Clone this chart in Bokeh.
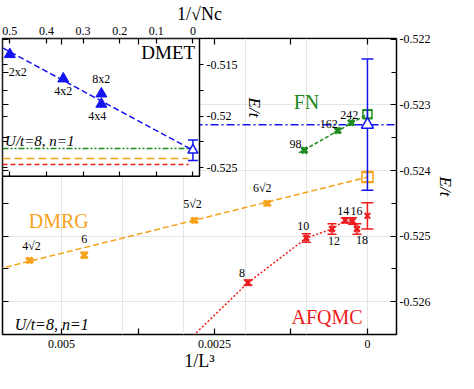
from bokeh.plotting import figure
from bokeh.models import Range1d, LinearAxis, FixedTicker, Span, Label
from bokeh.core.properties import value
from bokeh.embed import file_html
from bokeh.resources import INLINE

FONT = "Liberation Serif"
BLUE = "#1414f0"
GREEN = "#1e8a1e"
ORANGE = "#f7a21b"
RED = "#ee1c1c"

# ---------------- data ----------------
# inset: DMET cluster energies vs 1/sqrt(Nc)
dmet_labels = ["2x2", "4x2", "8x2", "4x4"]
dmet_x = [0.5, 0.354, 0.25, 0.25]
dmet_e = [-0.51400, -0.51636, -0.51782, -0.51882]
dmet_extrap_e = -0.52330
dmet_extrap_err = 0.0010
dmet_fit_x = [0.52, 0.0]
dmet_fit_e = [-0.51336, -0.52330]

# FN (labels: number of sites)
fn_labels = ["98", "162", "242"]
fn_x = [0.00103, 0.000485, 0.000266]
fn_e = [-0.52369, -0.52339, -0.52327]
fn_err = [0.00003, 0.00003, 0.00003]
fn_extrap_e = -0.52314
fn_extrap_err = 0.00006
fn_fit_x = [0.00112, 0.0]
fn_fit_e = [-0.52373, -0.52314]

# DMRG (labels: L)
dmrg_labels = ["4√2", "6", "5√2", "6√2"]
dmrg_x = [0.005524, 0.00463, 0.002828, 0.001637]
dmrg_e = [-0.52537, -0.52529, -0.52476, -0.52450]
dmrg_err = [0.00003, 0.00004, 0.00003, 0.00003]
dmrg_extrap_e = -0.52410
dmrg_extrap_err = 0.00007
dmrg_fit_x = [0.0062, 0.0]
dmrg_fit_e = [-0.52554, -0.52410]

# AFQMC (labels: L)
afqmc_labels = ["6", "8", "10", "12", "14", "16", "18"]
afqmc_x = [0.00463, 0.001953, 0.001, 0.000579, 0.000364, 0.000244, 0.000171]
afqmc_e = [-0.52813, -0.52571, -0.52503, -0.52489, -0.52476, -0.52477, -0.52489]
afqmc_err = [0.00006, 0.00004, 0.000065, 0.00008, 0.00004, 0.00005, 0.00008]
afqmc_extrap_e = -0.52469
afqmc_extrap_err = 0.00020

# axis ticks
main_x_ticks = [0.0, 0.0025, 0.005]
main_x_tick_labels = ["0", "0.0025", "0.005"]
main_x_minor = [0.00125, 0.00375, 0.00625]
main_y_ticks = [-0.526, -0.525, -0.524, -0.523, -0.522]
main_y_tick_labels = ["-0.526", "-0.525", "-0.524", "-0.523", "-0.522"]
main_y_minor = [-0.5265, -0.5255, -0.5245, -0.5235, -0.5225]
inset_x_ticks = [0.0, 0.1, 0.2, 0.3, 0.4, 0.5]
inset_x_tick_labels = ["0", "0.1", "0.2", "0.3", "0.4", "0.5"]
inset_y_ticks = [-0.525, -0.52, -0.515]
inset_y_tick_labels = ["-0.525", "-0.52", "-0.515"]
inset_y_minor = [-0.5225, -0.5175, -0.5125]

# ---------------- ranges ----------------
X0, X1 = 0.005966, -0.000475          # main x (reversed)
Y0, Y1 = -0.5265, -0.521986           # main y
IX0, IX1 = 0.52, -0.018               # inset visible x (reversed)
IY0, IY1 = -0.52582, -0.512455        # inset visible y
IFX, IFY = 0.5, 0.4652                # inset fraction of frame width / height
inset_x_full_end = IX0 - (IX0 - IX1) / IFX
inset_y_full_start = IY1 - (IY1 - IY0) / IFY
inset_right_main_x = X0 + (X1 - X0) * IFX
inset_bottom_main_y = Y1 - (Y1 - Y0) * IFY

p = figure(width=458, height=373, output_backend="svg", toolbar_location=None,
           x_range=Range1d(X0, X1), y_range=Range1d(Y0, Y1),
           x_axis_location=None, y_axis_location=None,
           min_border_left=2, min_border_right=0, min_border_top=0, min_border_bottom=0)
p.extra_x_ranges = {"in": Range1d(IX0, inset_x_full_end)}
p.extra_y_ranges = {"in": Range1d(inset_y_full_start, IY1)}
p.outline_line_color = "black"
p.outline_line_width = 1.5
p.background_fill_color = "white"
p.border_fill_color = "white"


def style_axis(ax, label_size="12px"):
    ax.major_label_text_font = FONT
    ax.major_label_text_font_size = label_size
    ax.major_label_text_color = "black"
    ax.axis_label_text_font = FONT
    ax.axis_label_text_font_style = "normal"
    ax.axis_label_text_color = "black"
    ax.major_tick_line_color = "black"
    ax.minor_tick_line_color = "black"
    ax.major_tick_line_width = 1.2
    ax.minor_tick_line_width = 1.2
    ax.axis_line_color = None
    ax.major_label_standoff = 3
    ax.axis_label_standoff = 2
    return ax


# main bottom axis
ax_b = style_axis(LinearAxis(ticker=FixedTicker(ticks=main_x_ticks, minor_ticks=main_x_minor),
                             axis_label="1/L³"))
ax_b.major_label_overrides = dict(zip(main_x_ticks, main_x_tick_labels))
ax_b.major_tick_in, ax_b.major_tick_out = 6, 0
ax_b.minor_tick_in, ax_b.minor_tick_out = 6, 0
ax_b.major_label_standoff = 5
ax_b.axis_label_text_font_size = "18px"
ax_b.axis_label_standoff = 0
p.add_layout(ax_b, "below")

# main top ticks (no labels)
ax_t = style_axis(LinearAxis(ticker=FixedTicker(ticks=[], minor_ticks=main_x_ticks + main_x_minor),
                             fixed_location=Y1, bounds=(X1, inset_right_main_x)))
ax_t.minor_tick_in, ax_t.minor_tick_out = 6, 0
p.add_layout(ax_t, "above")

# main right axis
ax_r = style_axis(LinearAxis(ticker=FixedTicker(ticks=main_y_ticks, minor_ticks=main_y_minor),
                             axis_label="E/t"))
ax_r.major_label_overrides = dict(zip(main_y_ticks, main_y_tick_labels))
ax_r.major_tick_in, ax_r.major_tick_out = 6, 0
ax_r.minor_tick_in, ax_r.minor_tick_out = 5, 0
ax_r.major_label_standoff = 3
ax_r.axis_label_text_font_size = "17px"
ax_r.axis_label_text_font_style = "italic"
ax_r.axis_label_standoff = 3
p.add_layout(ax_r, "right")

# main left ticks (below the inset)
ax_l = style_axis(LinearAxis(ticker=FixedTicker(ticks=[], minor_ticks=main_y_ticks + main_y_minor),
                             fixed_location=X0, bounds=(Y0, inset_bottom_main_y)))
ax_l.minor_tick_in, ax_l.minor_tick_out = 6, 0
p.add_layout(ax_l, "left")

# ---------------- main glyphs ----------------
p.add_layout(Span(location=dmet_extrap_e, dimension="width", line_color=BLUE,
                  line_dash="8 3 2 3", line_width=1.5, level="underlay"))

# DMRG
p.line(dmrg_fit_x, dmrg_fit_e, line_color=ORANGE, line_dash="6 3", line_width=1.5)
p.segment(dmrg_x, [e - s for e, s in zip(dmrg_e, dmrg_err)], dmrg_x,
          [e + s for e, s in zip(dmrg_e, dmrg_err)], line_color=ORANGE, line_width=1.5)
p.scatter(dmrg_x * 2, [e - s for e, s in zip(dmrg_e, dmrg_err)] + [e + s for e, s in zip(dmrg_e, dmrg_err)],
          marker="dash", size=8, line_color=ORANGE, line_width=2)
p.scatter(dmrg_x, dmrg_e, marker="x", size=8, line_color=ORANGE, line_width=3)
p.segment([0.0], [dmrg_extrap_e - dmrg_extrap_err], [0.0], [dmrg_extrap_e + dmrg_extrap_err],
          line_color=ORANGE, line_width=1.5)
p.scatter([0.0, 0.0], [dmrg_extrap_e - dmrg_extrap_err, dmrg_extrap_e + dmrg_extrap_err],
          marker="dash", size=12, line_color=ORANGE, line_width=1.5)
p.scatter([0.0], [dmrg_extrap_e], marker="square", size=11, fill_color=None,
          line_color=ORANGE, line_width=1.5)
p.text(dmrg_x, dmrg_e, text=dmrg_labels, x_offset=[2, 0, -2, -5], y_offset=[-14, -16, -16, -15],
       text_align="center", text_baseline="middle", text_font=value(FONT),
       text_font_size="12px", text_color="black")

# AFQMC
p.line(afqmc_x, afqmc_e, line_color=RED, line_dash="2 2", line_width=1.5)
p.segment(afqmc_x, [e - s for e, s in zip(afqmc_e, afqmc_err)], afqmc_x,
          [e + s for e, s in zip(afqmc_e, afqmc_err)], line_color=RED, line_width=1.5)
p.scatter(afqmc_x * 2, [e - s for e, s in zip(afqmc_e, afqmc_err)] + [e + s for e, s in zip(afqmc_e, afqmc_err)],
          marker="dash", size=9, line_color=RED, line_width=1.5)
p.scatter(afqmc_x, afqmc_e, marker="x", size=8, line_color=RED, line_width=2.5)
p.segment([0.0], [afqmc_extrap_e - afqmc_extrap_err], [0.0], [afqmc_extrap_e + afqmc_extrap_err],
          line_color=RED, line_width=1.5)
p.scatter([0.0, 0.0], [afqmc_extrap_e - afqmc_extrap_err, afqmc_extrap_e + afqmc_extrap_err],
          marker="dash", size=12, line_color=RED, line_width=1.5)
p.scatter([0.0], [afqmc_extrap_e], marker="x", size=8, line_color=RED, line_width=2)
p.text(afqmc_x[1:], afqmc_e[1:], text=afqmc_labels[1:],
       x_offset=[-6, -3, 2, -2, 4, 5], y_offset=[-10, -12, 12, -9, -10, 11],
       text_align="center", text_baseline="middle", text_font=value(FONT),
       text_font_size="12px", text_color="black")

# FN
p.line(fn_fit_x, fn_fit_e, line_color=GREEN, line_dash="4 2", line_width=1.5)
p.segment(fn_x, [e - s for e, s in zip(fn_e, fn_err)], fn_x,
          [e + s for e, s in zip(fn_e, fn_err)], line_color=GREEN, line_width=1.5)
p.scatter(fn_x * 2, [e - s for e, s in zip(fn_e, fn_err)] + [e + s for e, s in zip(fn_e, fn_err)],
          marker="dash", size=7, line_color=GREEN, line_width=2)
p.scatter(fn_x, fn_e, marker="x", size=8, line_color=GREEN, line_width=3)
p.segment([0.0], [fn_extrap_e - fn_extrap_err], [0.0], [fn_extrap_e + fn_extrap_err],
          line_color=GREEN, line_width=1.5)
p.scatter([0.0, 0.0], [fn_extrap_e - fn_extrap_err, fn_extrap_e + fn_extrap_err],
          marker="dash", size=10, line_color=GREEN, line_width=1.5)
p.scatter([0.0], [fn_extrap_e], marker="square", size=9, fill_color=None,
          line_color=GREEN, line_width=1.5)
p.text(fn_x, fn_e, text=fn_labels, x_offset=[-9, -9, -2], y_offset=[-6, -7, -8],
       text_align="center", text_baseline="middle", text_font=value(FONT),
       text_font_size="12px", text_color="black")

# DMET extrapolated value in main panel
p.segment([0.0], [dmet_extrap_e - dmet_extrap_err], [0.0], [dmet_extrap_e + dmet_extrap_err],
          line_color=BLUE, line_width=1.5)
p.scatter([0.0, 0.0], [dmet_extrap_e - dmet_extrap_err, dmet_extrap_e + dmet_extrap_err],
          marker="dash", size=12, line_color=BLUE, line_width=1.5)
p.scatter([0.0], [dmet_extrap_e], marker="triangle", size=12, fill_color="white",
          line_color=BLUE, line_width=1.5)

for txt, x, y, col, align in [("DMRG", 0.005537, -0.52477, ORANGE, "left"),
                              ("FN", 0.000997, -0.52296, GREEN, "center"),
                              ("AFQMC", 0.00066, -0.52623, RED, "center"),
                              ("U/t=8, n=1", 0.005767, -0.52634, "black", "left")]:
    p.add_layout(Label(x=x, y=y, text=txt, text_color=col, text_font=FONT,
                       text_font_size="20px" if col != "black" else "16px",
                       text_font_style="italic" if col == "black" else "normal",
                       text_align=align, text_baseline="middle"))

# ---------------- inset ----------------
p.quad(left=[IX0], right=[IX1], bottom=[IY0], top=[IY1], x_range_name="in", y_range_name="in",
       fill_color="white", line_color="black", line_width=1.5)

for ys, col, dash in [(fn_extrap_e, GREEN, "6 2 2 2 2 2"), (dmrg_extrap_e, ORANGE, "8 4"),
                      (afqmc_extrap_e, RED, "5 3")]:
    p.line([IX0, 0.012], [ys, ys], x_range_name="in", y_range_name="in",
           line_color=col, line_dash=dash, line_width=1.5)

p.line(dmet_fit_x, dmet_fit_e, x_range_name="in", y_range_name="in",
       line_color=BLUE, line_dash="6 3", line_width=1.5)
p.scatter(dmet_x, dmet_e, x_range_name="in", y_range_name="in", marker="triangle", size=11,
          fill_color=BLUE, line_color=BLUE)
p.segment([0.0], [dmet_extrap_e - dmet_extrap_err], [0.0], [dmet_extrap_e + dmet_extrap_err],
          x_range_name="in", y_range_name="in", line_color=BLUE, line_width=1.5)
p.scatter([0.0, 0.0], [dmet_extrap_e - dmet_extrap_err, dmet_extrap_e + dmet_extrap_err],
          x_range_name="in", y_range_name="in", marker="dash", size=10, line_color=BLUE, line_width=1.5)
p.scatter([0.0], [dmet_extrap_e], x_range_name="in", y_range_name="in", marker="triangle", size=10,
          fill_color="white", line_color=BLUE, line_width=1.5)
p.text(dmet_x, dmet_e, text=dmet_labels, x_range_name="in", y_range_name="in",
       x_offset=[8, 0, 0, -4], y_offset=[18, 12, -15, 12],
       text_align="center", text_baseline="middle", text_font=value(FONT),
       text_font_size="12px", text_color="black")

p.add_layout(Label(x=0.141, y=-0.51382, x_range_name="in", y_range_name="in", text="DMET",
                   text_font=FONT, text_font_size="19px", text_color="black",
                   text_align="left", text_baseline="middle"))
p.add_layout(Label(x=0.513, y=-0.52245, x_range_name="in", y_range_name="in", text="U/t=8, n=1",
                   text_font=FONT, text_font_size="15px", text_font_style="italic",
                   text_color="black", text_align="left", text_baseline="middle"))

# inset top axis
ax_it = style_axis(LinearAxis(x_range_name="in", ticker=FixedTicker(ticks=inset_x_ticks),
                              axis_label="1/√Nc", bounds=(IX1, IX0)))
ax_it.major_label_overrides = dict(zip(inset_x_ticks, inset_x_tick_labels))
ax_it.major_tick_in, ax_it.major_tick_out = 5, 0
ax_it.major_label_standoff = 4
ax_it.axis_label_text_font_size = "18px"
ax_it.axis_label_standoff = 0
p.add_layout(ax_it, "above")

# inset right axis (labels outside the inset)
ax_ir = style_axis(LinearAxis(x_range_name="in", y_range_name="in", fixed_location=IX1,
                              ticker=FixedTicker(ticks=inset_y_ticks, minor_ticks=inset_y_minor),
                              axis_label="E/t", bounds=(IY0, IY1)))
ax_ir.major_label_overrides = dict(zip(inset_y_ticks, inset_y_tick_labels))
ax_ir.major_tick_in, ax_ir.major_tick_out = 0, 4
ax_ir.minor_tick_in, ax_ir.minor_tick_out = 0, 4
ax_ir.axis_label_text_font_size = "17px"
ax_ir.axis_label_text_font_style = "italic"
ax_ir.axis_label_standoff = 5
p.add_layout(ax_ir, "right")

# inset left ticks
ax_il = style_axis(LinearAxis(x_range_name="in", y_range_name="in", fixed_location=IX0,
                              ticker=FixedTicker(ticks=[], minor_ticks=inset_y_ticks + inset_y_minor),
                              bounds=(IY0, IY1)))
ax_il.minor_tick_in, ax_il.minor_tick_out = 5, 0
p.add_layout(ax_il, "left")

# inset bottom ticks
ax_ib = style_axis(LinearAxis(x_range_name="in", y_range_name="in", fixed_location=IY0,
                              ticker=FixedTicker(ticks=[], minor_ticks=inset_x_ticks),
                              bounds=(IX1, IX0)))
ax_ib.minor_tick_in, ax_ib.minor_tick_out = 5, 0
p.add_layout(ax_ib, "below")

open("out.html", "w").write(file_html(p, INLINE))
